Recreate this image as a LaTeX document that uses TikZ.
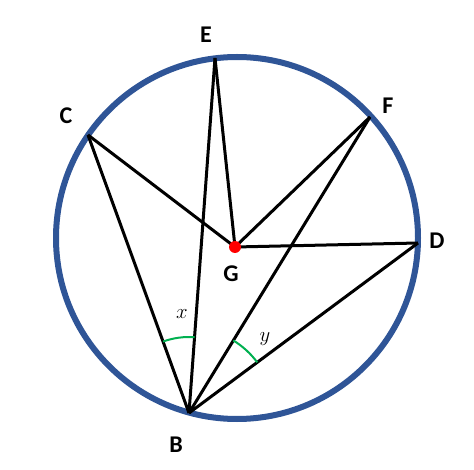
\documentclass[tikz,border=0pt]{standalone}
\usepackage{fontspec}
\setsansfont{Carlito}
\usepackage{tikz}
\usetikzlibrary{angles}
\definecolor{ringblue}{RGB}{47,85,151}
\definecolor{arcgreen}{RGB}{0,176,80}
\begin{document}
\begin{tikzpicture}[x=1pt,y=1pt]
	
	\tikzset{chord/.style={black, line width=3pt},
		ptlabel/.style={font=\sffamily\bfseries\fontsize{24}{24}\selectfont, inner sep=0pt},
		anglelabel/.style={font=\fontsize{20}{20}\selectfont, inner sep=0pt},
		anglemark/.style={draw=arcgreen, line width=2pt}
	}
	
	\useasboundingbox (0,0) rectangle (474,469);
	
	% points on the circle and the inner point
	\coordinate (O) at (237,231);
	\coordinate (E) at (215,411);
	\coordinate (C) at (88,334);
	\coordinate (F) at (370,352);
	\coordinate (D) at (418,226);
	\coordinate (B) at (189,56);
	\coordinate (G) at (235,222);
	
	\draw[ringblue, line width=6pt] (O) circle (181);
	
	\foreach \p in {C,E,F,D}{
		\draw[chord] (B) -- (\p);
		\draw[chord] (G) -- (\p);
	}
	
	\pic[anglemark, angle radius=76pt] {angle = E--B--C};
	\pic[anglemark, angle radius=85pt] {angle = D--B--F};
	
	\fill[red] (G) circle (6);
	
	\node[ptlabel] (lE) at (206,434) {E};
	\node[ptlabel] (lC) at (66,353) {C};
	\node[ptlabel] (lF) at (388,363) {F};
	\node[ptlabel] (lD) at (437,228) {D};
	\node[ptlabel] (lG) at (231,195) {G};
	\node[ptlabel] (lB) at (176,24) {B};
	\node[anglelabel] (lx) at (182,155) {$x$};
	\node[anglelabel] (ly) at (265,130) {$y$};
	
\end{tikzpicture}
\end{document}
